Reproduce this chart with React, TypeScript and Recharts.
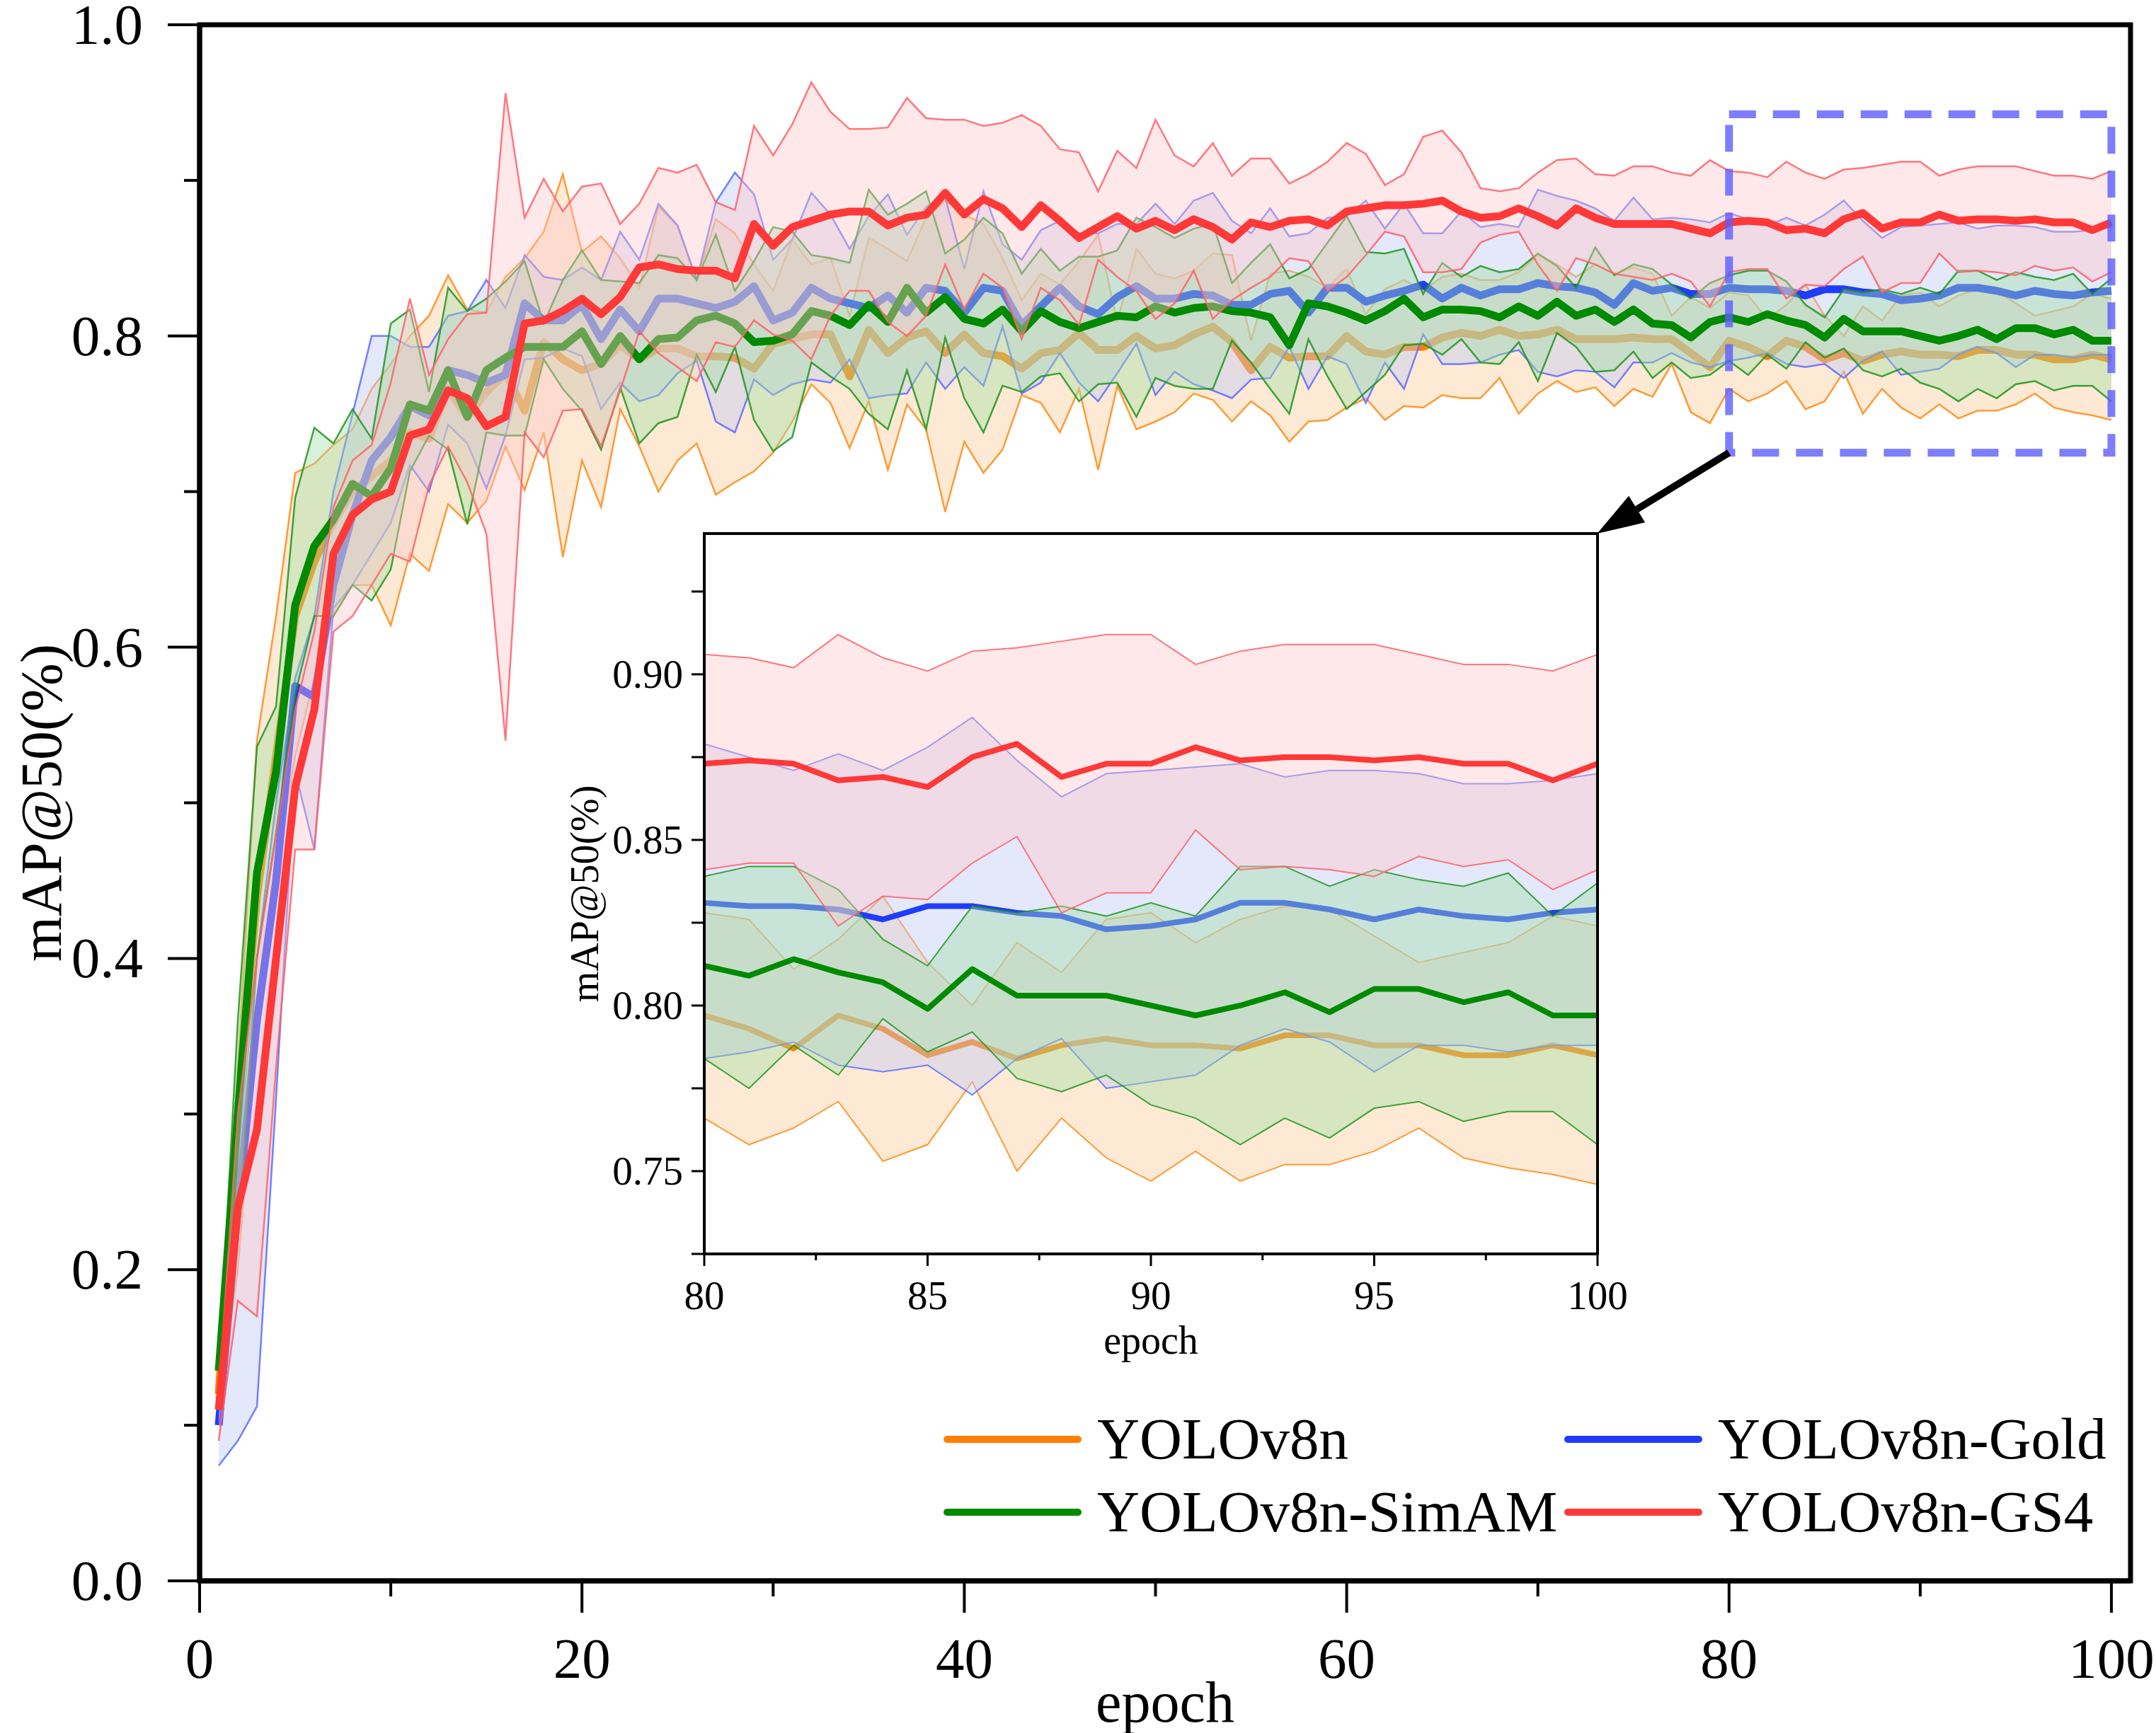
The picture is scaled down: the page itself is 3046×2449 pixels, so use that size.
import {
  Area,
  CartesianGrid,
  ComposedChart,
  Label,
  Legend,
  Line,
  ReferenceArea,
  ReferenceLine,
  XAxis,
  YAxis,
} from "recharts";

const FONT = '"Liberation Serif", "Times New Roman", serif';

// mAP@50 per epoch (epochs 1..100): mean curve plus min/max envelope per model
const v8nMean = [
  0.12, 0.3, 0.44, 0.53, 0.62, 0.655, 0.68, 0.7, 0.71, 0.72,
  0.738, 0.734, 0.766, 0.748, 0.764, 0.776, 0.752, 0.796, 0.785, 0.778,
  0.782, 0.794, 0.785, 0.792, 0.792, 0.787, 0.787, 0.786, 0.779, 0.795,
  0.798, 0.801, 0.801, 0.774, 0.804, 0.789, 0.799, 0.803, 0.789, 0.801,
  0.789, 0.787, 0.779, 0.789, 0.791, 0.802, 0.791, 0.791, 0.8, 0.792,
  0.794, 0.801, 0.806, 0.796, 0.778, 0.793, 0.786, 0.787, 0.787, 0.8,
  0.79, 0.788, 0.793, 0.793, 0.799, 0.802, 0.8, 0.804, 0.8, 0.801,
  0.804, 0.798, 0.798, 0.798, 0.799, 0.798, 0.798, 0.789, 0.78, 0.797,
  0.793, 0.787, 0.797, 0.793, 0.785, 0.789, 0.784, 0.788, 0.79, 0.788,
  0.788, 0.787, 0.791, 0.791, 0.788, 0.788, 0.785, 0.785, 0.788, 0.785,
];
const v8nHigh = [
  0.125, 0.33, 0.54, 0.62, 0.712, 0.718, 0.73, 0.74, 0.766, 0.782,
  0.8, 0.813, 0.839, 0.817, 0.815, 0.838, 0.85, 0.867, 0.904, 0.854,
  0.864, 0.85, 0.831, 0.883, 0.871, 0.836, 0.875, 0.866, 0.846, 0.829,
  0.862, 0.846, 0.85, 0.813, 0.863, 0.856, 0.848, 0.876, 0.887, 0.878,
  0.872, 0.85, 0.823, 0.84, 0.833, 0.848, 0.865, 0.809, 0.856, 0.84,
  0.837, 0.842, 0.853, 0.852, 0.797, 0.84, 0.842, 0.838, 0.831, 0.843,
  0.814, 0.83, 0.836, 0.829, 0.838, 0.84, 0.836, 0.836, 0.841, 0.852,
  0.846, 0.838, 0.846, 0.84, 0.844, 0.84, 0.813, 0.825, 0.818, 0.828,
  0.826, 0.811, 0.82, 0.833, 0.813, 0.8, 0.819, 0.81, 0.826, 0.828,
  0.819, 0.826, 0.83, 0.829, 0.821, 0.813, 0.816, 0.819, 0.827, 0.824,
];
const v8nLow = [
  0.11, 0.2, 0.35, 0.46, 0.53, 0.58, 0.62, 0.64, 0.64, 0.614,
  0.66, 0.649, 0.692, 0.68, 0.694, 0.729, 0.701, 0.738, 0.658, 0.72,
  0.69, 0.753, 0.729, 0.7, 0.72, 0.731, 0.698, 0.706, 0.713, 0.725,
  0.745, 0.769, 0.757, 0.728, 0.758, 0.714, 0.756, 0.74, 0.687, 0.732,
  0.712, 0.727, 0.762, 0.757, 0.738, 0.766, 0.714, 0.768, 0.74, 0.745,
  0.751, 0.763, 0.759, 0.745, 0.758, 0.749, 0.732, 0.745, 0.746, 0.754,
  0.76, 0.746, 0.755, 0.754, 0.762, 0.76, 0.76, 0.773, 0.75, 0.763,
  0.771, 0.764, 0.767, 0.755, 0.766, 0.761, 0.782, 0.751, 0.744, 0.766,
  0.758, 0.763, 0.771, 0.753, 0.758, 0.777, 0.75, 0.766, 0.754, 0.747,
  0.756, 0.747, 0.752, 0.752, 0.756, 0.763, 0.754, 0.751, 0.749, 0.746,
];

const goldMean = [
  0.1, 0.24, 0.36, 0.45, 0.575, 0.568, 0.64, 0.685, 0.72, 0.735,
  0.755, 0.749, 0.778, 0.775, 0.77, 0.775, 0.821, 0.81, 0.81, 0.82,
  0.798, 0.817, 0.803, 0.824, 0.824, 0.821, 0.818, 0.822, 0.832, 0.81,
  0.815, 0.831, 0.824, 0.821, 0.818, 0.826, 0.815, 0.831, 0.829, 0.815,
  0.831, 0.829, 0.807, 0.819, 0.831, 0.819, 0.814, 0.825, 0.832, 0.824,
  0.824, 0.827, 0.826, 0.82, 0.82, 0.827, 0.829, 0.815, 0.831, 0.831,
  0.822, 0.826, 0.829, 0.833, 0.824, 0.831, 0.826, 0.83, 0.83, 0.834,
  0.832, 0.831, 0.828, 0.82, 0.834, 0.829, 0.831, 0.827, 0.827, 0.831,
  0.83, 0.83, 0.829, 0.826, 0.83, 0.83, 0.828, 0.827, 0.823, 0.824,
  0.826, 0.831, 0.831, 0.829, 0.826, 0.829, 0.827, 0.826, 0.828, 0.829,
];
const goldHigh = [
  0.1, 0.27, 0.4, 0.5, 0.58, 0.62, 0.7, 0.75, 0.8, 0.8,
  0.793, 0.793, 0.813, 0.816, 0.836, 0.818, 0.852, 0.838, 0.836, 0.844,
  0.836, 0.867, 0.849, 0.885, 0.871, 0.836, 0.886, 0.905, 0.891, 0.849,
  0.862, 0.892, 0.878, 0.856, 0.877, 0.891, 0.865, 0.883, 0.889, 0.843,
  0.893, 0.859, 0.849, 0.868, 0.874, 0.866, 0.866, 0.872, 0.872, 0.885,
  0.872, 0.887, 0.892, 0.874, 0.866, 0.882, 0.864, 0.866, 0.876, 0.877,
  0.887, 0.869, 0.885, 0.866, 0.866, 0.88, 0.87, 0.872, 0.87, 0.894,
  0.89, 0.887, 0.882, 0.874, 0.889, 0.875, 0.876, 0.875, 0.873, 0.879,
  0.875, 0.871, 0.876, 0.871, 0.878, 0.887, 0.874, 0.863, 0.87, 0.871,
  0.872, 0.873, 0.869, 0.871, 0.871, 0.87, 0.867, 0.867, 0.868, 0.87,
];
const goldLow = [
  0.074, 0.09, 0.112, 0.31, 0.52, 0.47, 0.625, 0.64, 0.66, 0.68,
  0.717, 0.7, 0.743, 0.731, 0.702, 0.736, 0.785, 0.786, 0.792, 0.787,
  0.753, 0.77, 0.758, 0.762, 0.776, 0.784, 0.745, 0.738, 0.772, 0.762,
  0.769, 0.772, 0.77, 0.785, 0.76, 0.762, 0.763, 0.783, 0.766, 0.78,
  0.768, 0.806, 0.763, 0.77, 0.789, 0.77, 0.758, 0.776, 0.795, 0.762,
  0.777, 0.769, 0.765, 0.76, 0.772, 0.773, 0.793, 0.766, 0.787, 0.782,
  0.757, 0.783, 0.766, 0.801, 0.782, 0.782, 0.783, 0.788, 0.791, 0.777,
  0.774, 0.778, 0.777, 0.767, 0.783, 0.783, 0.789, 0.783, 0.78, 0.784,
  0.786, 0.789, 0.782, 0.78, 0.782, 0.773, 0.784, 0.79, 0.775, 0.777,
  0.779, 0.788, 0.793, 0.789, 0.78, 0.788, 0.788, 0.786, 0.788, 0.788,
];

const simamMean = [
  0.135, 0.3, 0.455, 0.52, 0.627, 0.665, 0.682, 0.705, 0.697, 0.715,
  0.756, 0.752, 0.778, 0.748, 0.778, 0.786, 0.793, 0.793, 0.793, 0.803,
  0.782, 0.8, 0.785, 0.798, 0.799, 0.81, 0.813, 0.808, 0.796, 0.797,
  0.801, 0.816, 0.813, 0.807, 0.82, 0.809, 0.831, 0.815, 0.825, 0.811,
  0.808, 0.817, 0.803, 0.816, 0.809, 0.805, 0.809, 0.813, 0.812, 0.819,
  0.815, 0.818, 0.819, 0.816, 0.815, 0.812, 0.794, 0.821, 0.819, 0.815,
  0.81, 0.816, 0.824, 0.812, 0.817, 0.817, 0.816, 0.812, 0.819, 0.813,
  0.822, 0.813, 0.817, 0.809, 0.817, 0.808, 0.807, 0.799, 0.809, 0.812,
  0.809, 0.814, 0.81, 0.807, 0.799, 0.811, 0.803, 0.803, 0.803, 0.8,
  0.797, 0.8, 0.804, 0.798, 0.805, 0.805, 0.801, 0.804, 0.797, 0.797,
];
const simamHigh = [
  0.135, 0.36, 0.536, 0.562, 0.696, 0.741, 0.731, 0.753, 0.734, 0.808,
  0.817, 0.764, 0.831, 0.816, 0.824, 0.835, 0.848, 0.808, 0.836, 0.855,
  0.836, 0.835, 0.834, 0.852, 0.85, 0.836, 0.865, 0.829, 0.848, 0.87,
  0.867, 0.852, 0.85, 0.847, 0.894, 0.878, 0.885, 0.893, 0.853, 0.862,
  0.876, 0.866, 0.84, 0.856, 0.842, 0.851, 0.851, 0.855, 0.876, 0.87,
  0.863, 0.869, 0.872, 0.834, 0.847, 0.859, 0.837, 0.843, 0.86, 0.877,
  0.854, 0.853, 0.856, 0.827, 0.847, 0.838, 0.845, 0.841, 0.843, 0.853,
  0.845, 0.831, 0.857, 0.839, 0.846, 0.843, 0.833, 0.824, 0.834, 0.839,
  0.842, 0.842, 0.835, 0.82, 0.812, 0.83, 0.828, 0.83, 0.827, 0.831,
  0.827, 0.842, 0.842, 0.836, 0.841, 0.838, 0.836, 0.84, 0.827, 0.837,
];
const simamLow = [
  0.13, 0.22, 0.4, 0.48, 0.57, 0.62, 0.62, 0.64, 0.63, 0.65,
  0.713, 0.736, 0.727, 0.679, 0.738, 0.736, 0.736, 0.785, 0.766, 0.752,
  0.727, 0.767, 0.731, 0.744, 0.748, 0.788, 0.764, 0.793, 0.746, 0.726,
  0.735, 0.783, 0.774, 0.766, 0.75, 0.74, 0.778, 0.74, 0.799, 0.76,
  0.738, 0.768, 0.764, 0.774, 0.776, 0.758, 0.769, 0.77, 0.748, 0.773,
  0.768, 0.766, 0.766, 0.797, 0.783, 0.766, 0.75, 0.798, 0.774, 0.753,
  0.764, 0.775, 0.794, 0.795, 0.788, 0.798, 0.783, 0.782, 0.796, 0.771,
  0.802, 0.793, 0.777, 0.778, 0.79, 0.773, 0.783, 0.773, 0.775, 0.784,
  0.775, 0.788, 0.779, 0.796, 0.786, 0.792, 0.778, 0.774, 0.779, 0.77,
  0.766, 0.758, 0.766, 0.76, 0.769, 0.771, 0.765, 0.768, 0.768, 0.758,
];

const gs4Mean = [
  0.11, 0.24, 0.29, 0.4, 0.51, 0.56, 0.66, 0.685, 0.695, 0.7,
  0.736, 0.74, 0.765, 0.76, 0.742, 0.748, 0.808, 0.81, 0.816, 0.824,
  0.814, 0.825, 0.844, 0.846, 0.843, 0.842, 0.842, 0.837, 0.872, 0.858,
  0.87, 0.874, 0.878, 0.88, 0.88, 0.871, 0.876, 0.878, 0.892, 0.878,
  0.888, 0.882, 0.87, 0.884, 0.874, 0.863, 0.87, 0.877, 0.869, 0.874,
  0.868, 0.875, 0.87, 0.862, 0.873, 0.87, 0.874, 0.875, 0.871, 0.88,
  0.882, 0.884, 0.884, 0.885, 0.887, 0.88, 0.876, 0.877, 0.882, 0.877,
  0.871, 0.882, 0.876, 0.872, 0.872, 0.872, 0.872, 0.869, 0.866, 0.873,
  0.874, 0.873, 0.868, 0.869, 0.866, 0.875, 0.879, 0.869, 0.873, 0.873,
  0.878, 0.874, 0.875, 0.875, 0.874, 0.875, 0.873, 0.873, 0.868, 0.873,
];
const gs4High = [
  0.12, 0.3, 0.4, 0.48, 0.56, 0.61, 0.69, 0.72, 0.73, 0.77,
  0.824, 0.775, 0.798, 0.814, 0.815, 0.956, 0.876, 0.901, 0.88, 0.896,
  0.898, 0.872, 0.885, 0.908, 0.905, 0.91, 0.886, 0.881, 0.935, 0.916,
  0.936, 0.963, 0.944, 0.933, 0.933, 0.934, 0.953, 0.94, 0.939, 0.939,
  0.935, 0.937, 0.942, 0.935, 0.92, 0.918, 0.893, 0.919, 0.908, 0.939,
  0.916, 0.909, 0.924, 0.903, 0.914, 0.914, 0.898, 0.904, 0.912, 0.924,
  0.917, 0.897, 0.904, 0.928, 0.932, 0.918, 0.895, 0.893, 0.895, 0.905,
  0.913, 0.914, 0.904, 0.903, 0.909, 0.909, 0.905, 0.903, 0.913, 0.906,
  0.905, 0.902, 0.912, 0.905, 0.901, 0.907, 0.908, 0.91, 0.912, 0.912,
  0.903, 0.907, 0.909, 0.909, 0.909, 0.906, 0.903, 0.903, 0.901, 0.906,
];
const gs4Low = [
  0.09, 0.18, 0.17, 0.33, 0.47, 0.47, 0.61, 0.62, 0.64, 0.66,
  0.655, 0.704, 0.729, 0.706, 0.673, 0.54, 0.738, 0.722, 0.752, 0.753,
  0.729, 0.765, 0.803, 0.789, 0.78, 0.771, 0.796, 0.793, 0.81, 0.801,
  0.797, 0.785, 0.813, 0.829, 0.829, 0.809, 0.8, 0.813, 0.846, 0.817,
  0.84, 0.831, 0.798, 0.831, 0.823, 0.807, 0.849, 0.838, 0.829, 0.811,
  0.821, 0.842, 0.811, 0.823, 0.831, 0.838, 0.85, 0.848, 0.829, 0.838,
  0.852, 0.867, 0.864, 0.841, 0.841, 0.843, 0.86, 0.865, 0.867, 0.846,
  0.829, 0.85, 0.846, 0.84, 0.838, 0.836, 0.84, 0.835, 0.819, 0.841,
  0.843, 0.843, 0.824, 0.833, 0.832, 0.843, 0.851, 0.828, 0.834, 0.834,
  0.853, 0.841, 0.842, 0.841, 0.839, 0.845, 0.842, 0.844, 0.835, 0.841,
];

const xTicks = [0, 10, 20, 30, 40, 50, 60, 70, 80, 90, 100];
const yTicks = [0, 0.1, 0.2, 0.3, 0.4, 0.5, 0.6, 0.7, 0.8, 0.9, 1];
const insetXTicks = [80, 82.5, 85, 87.5, 90, 92.5, 95, 97.5, 100];
const insetYTicks = [0.725, 0.75, 0.775, 0.8, 0.825, 0.85, 0.875, 0.9, 0.925];

// drawn in this order: each translucent band veils the curves drawn before it
const series = [
  { key: "v8n", name: "YOLOv8n", color: "#ff8000", edge: "#ff8a14", fill: "#fdcd99", fillOpacity: 0.42, mean: v8nMean, low: v8nLow, high: v8nHigh },
  { key: "gold", name: "YOLOv8n-Gold", color: "#1f3cff", edge: "#5b6bff", fill: "#bec8f5", fillOpacity: 0.42, mean: goldMean, low: goldLow, high: goldHigh },
  { key: "simam", name: "YOLOv8n-SimAM", color: "#008a00", edge: "#1f941f", fill: "#a1dea7", fillOpacity: 0.42, mean: simamMean, low: simamLow, high: simamHigh },
  { key: "gs4", name: "YOLOv8n-GS4", color: "#ff3838", edge: "#ff6068", fill: "#ffc6c8", fillOpacity: 0.4, mean: gs4Mean, low: gs4Low, high: gs4High },
];

const rows = v8nMean.map((_, i) => {
  const row: Record<string, any> = { epoch: i + 1 };
  series.forEach((s) => {
    row[s.key] = s.mean[i];
    row[s.key + "Band"] = [s.low[i], s.high[i]];
  });
  return row;
});
const insetRows = rows.filter((r) => r.epoch >= 80);

const curves = (lineWidth: number, edgeWidth: number) =>
  series.flatMap((s, i) => [
    <Area
      key={s.key + "-band"}
      type="linear"
      dataKey={s.key + "Band"}
      stroke={s.edge}
      strokeWidth={edgeWidth}
      strokeOpacity={0.85}
      fill={s.fill}
      fillOpacity={s.fillOpacity}
      dot={false}
      activeDot={false}
      legendType="none"
      isAnimationActive={false}
      zIndex={110 + i * 2}
    />,
    <Line
      key={s.key + "-mean"}
      type="linear"
      dataKey={s.key}
      stroke={s.color}
      strokeWidth={lineWidth}
      strokeLinejoin="round"
      dot={false}
      activeDot={false}
      isAnimationActive={false}
      zIndex={111 + i * 2}
    />,
  ]);

const MainXTick = ({ x, y, payload }: any) => {
  const major = payload.value % 20 === 0;
  return (
    <g>
      <line x1={x} x2={x} y1={y} y2={y + (major ? 45 : 22)} stroke="#000" strokeWidth={4} />
      {major && (
        <text x={x} y={y + 110} textAnchor="middle" dominantBaseline="central" fontFamily={FONT} fontSize={81} fill="#000">
          {payload.value}
        </text>
      )}
    </g>
  );
};

const MainYTick = ({ x, y, payload }: any) => {
  const major = Math.round(payload.value * 10) % 2 === 0;
  return (
    <g>
      <line x1={x} x2={x - (major ? 45 : 22)} y1={y} y2={y} stroke="#000" strokeWidth={4} />
      {major && (
        <text x={x - 80} y={y} textAnchor="end" dominantBaseline="central" fontFamily={FONT} fontSize={81} fill="#000">
          {payload.value.toFixed(1)}
        </text>
      )}
    </g>
  );
};

const InsetXTick = ({ x, y, payload }: any) => {
  const major = payload.value % 5 === 0;
  return (
    <g>
      <line x1={x} x2={x} y1={y} y2={y + (major ? 17 : 9)} stroke="#000" strokeWidth={3} />
      {major && (
        <text x={x} y={y + 58} textAnchor="middle" dominantBaseline="central" fontFamily={FONT} fontSize={57} fill="#000">
          {payload.value}
        </text>
      )}
    </g>
  );
};

const InsetYTick = ({ x, y, payload }: any) => {
  const major = Math.round(payload.value * 1000) % 50 === 0;
  return (
    <g>
      <line x1={x} x2={x - 18} y1={y} y2={y} stroke="#000" strokeWidth={3} />
      {major && (
        <text x={x - 30} y={y} textAnchor="end" dominantBaseline="central" fontFamily={FONT} fontSize={57} fill="#000">
          {payload.value.toFixed(2)}
        </text>
      )}
    </g>
  );
};

const axisTitle = (dx: number, dy: number, size: number, rotate: boolean, text: string) =>
  (props: any) => {
    const vb = props.viewBox || { x: 0, y: 0, width: 0, height: 0 };
    const x = rotate ? vb.x + dx : vb.x + vb.width / 2;
    const y = rotate ? vb.y + vb.height / 2 : vb.y + dy;
    return (
      <text
        x={x}
        y={y}
        textAnchor="middle"
        dominantBaseline="central"
        fontFamily={FONT}
        fontSize={size}
        fill="#000"
        transform={rotate ? `rotate(-90, ${x}, ${y})` : undefined}
      >
        {text}
      </text>
    );
  };

// arrow from the zoom box corner to the inset corner
const Arrow = ({ x1, y1, x2, y2 }: any) => {
  const len = Math.hypot(x2 - x1, y2 - y1);
  const ux = (x2 - x1) / len;
  const uy = (y2 - y1) / len;
  const head = 66;
  const half = 22;
  const bx = x2 - ux * head;
  const by = y2 - uy * head;
  return (
    <g>
      <line x1={x1} y1={y1} x2={bx + ux * 4} y2={by + uy * 4} stroke="#000" strokeWidth={10} />
      <polygon
        points={`${x2},${y2} ${bx - uy * half},${by + ux * half} ${bx + uy * half},${by - ux * half}`}
        fill="#000"
      />
    </g>
  );
};

const LegendBox = () => (
  <div
    style={{
      display: "grid",
      gridTemplateColumns: "877px 836px",
      fontFamily: FONT,
      fontSize: 83,
      lineHeight: 1,
      color: "#000",
      whiteSpace: "nowrap",
    }}
  >
    {series.map((s) => (
      <div key={s.key} style={{ display: "flex", alignItems: "center", height: 103 }}>
        <span
          style={{
            display: "inline-block",
            flex: "none",
            width: 195,
            height: 10,
            borderRadius: 5,
            background: s.color,
            marginRight: 22,
          }}
        />
        <span>{s.name}</span>
      </div>
    ))}
  </div>
);

export default function App() {
  return (
    <div style={{ position: "absolute", left: 0, top: 0, width: 3046, height: 2449, background: "#fff" }}>
      <ComposedChart width={3046} height={2449} data={rows} margin={{ top: 35, right: 36, bottom: 0, left: 0 }}>
        <XAxis
          dataKey="epoch"
          type="number"
          domain={[0, 101]}
          ticks={xTicks}
          interval={0}
          tickSize={0}
          tickMargin={0}
          tickLine={false}
          tick={MainXTick}
          axisLine={{ stroke: "#000", strokeWidth: 7 }}
          height={215}
          label={<Label content={axisTitle(0, 171, 82, false, "epoch")} />}
        />
        <YAxis
          type="number"
          domain={[0, 1]}
          ticks={yTicks}
          interval={0}
          tickSize={0}
          tickMargin={0}
          tickLine={false}
          tick={MainYTick}
          axisLine={{ stroke: "#000", strokeWidth: 7 }}
          width={282}
          label={<Label content={axisTitle(58, 0, 82, true, "mAP@50(%)")} />}
        />
        {curves(11, 2.5)}
        <ReferenceArea
          x1={80}
          x2={100}
          y1={0.725}
          y2={0.9425}
          fill="none"
          stroke="#5c5cff"
          strokeOpacity={0.8}
          strokeWidth={11}
          strokeDasharray="38 24"
          ifOverflow="visible"
          zIndex={900}
        />
        <ReferenceLine
          segment={[
            { x: 80, y: 0.725 },
            { x: 73.1, y: 0.673 },
          ]}
          shape={Arrow}
          ifOverflow="visible"
          zIndex={900}
        />
        <ReferenceArea
          x1={0}
          x2={101}
          y1={0}
          y2={1}
          fill="none"
          stroke="#000"
          strokeWidth={7}
          ifOverflow="visible"
          zIndex={950}
        />
        <Legend
          layout="horizontal"
          verticalAlign="middle"
          align="center"
          content={LegendBox}
          wrapperStyle={{ position: "absolute", left: 1333, top: 1982, width: 1713 }}
        />
      </ComposedChart>

      <div style={{ position: "absolute", left: 780, top: 700 }}>
        <ComposedChart width={1537} height={1242} data={insetRows} margin={{ top: 54, right: 60, bottom: 0, left: 0 }}>
          <CartesianGrid horizontal={false} vertical={false} fill="#fff" stroke="none" />
          <XAxis
            dataKey="epoch"
            type="number"
            domain={[80, 100]}
            ticks={insetXTicks}
            interval={0}
            tickSize={0}
            tickMargin={0}
            tickLine={false}
            tick={InsetXTick}
            axisLine={{ stroke: "#000", strokeWidth: 4 }}
            height={170}
            label={<Label content={axisTitle(0, 122, 56, false, "epoch")} />}
          />
          <YAxis
            type="number"
            domain={[0.725, 0.9425]}
            allowDataOverflow
            ticks={insetYTicks}
            interval={0}
            tickSize={0}
            tickMargin={0}
            tickLine={false}
            tick={InsetYTick}
            axisLine={{ stroke: "#000", strokeWidth: 4 }}
            width={215}
            label={<Label content={axisTitle(46, 0, 56, true, "mAP@50(%)")} />}
          />
          {curves(8, 2)}
          <ReferenceArea
            x1={80}
            x2={100}
            y1={0.725}
            y2={0.9425}
            fill="none"
            stroke="#000"
            strokeWidth={4}
            ifOverflow="visible"
            zIndex={950}
          />
        </ComposedChart>
      </div>
    </div>
  );
}
